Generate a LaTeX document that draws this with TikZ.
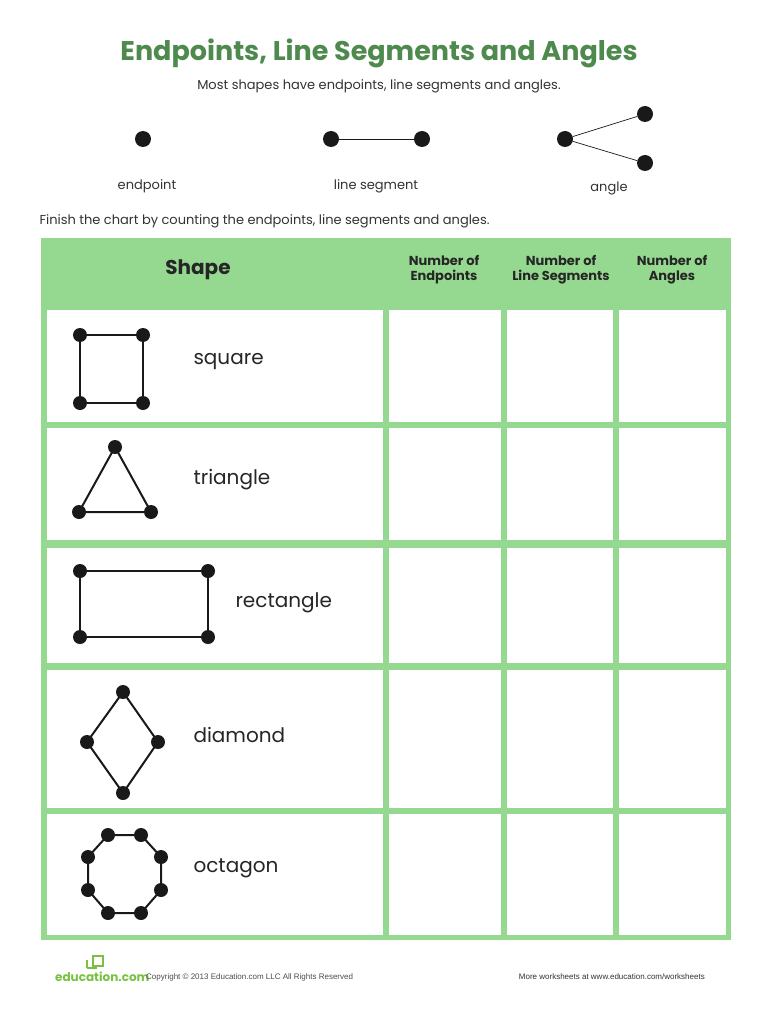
\documentclass[tikz,border=0pt]{standalone}
\usepackage{fontspec}
\setmainfont{Poppins}
\newfontfamily\footfont{Liberation Sans}
\definecolor{tgreen}{HTML}{4E8A4E}
\definecolor{tbl}{HTML}{95D991}
\definecolor{edgreen}{HTML}{7AC143}
\begin{document}
\begin{tikzpicture}[x=1pt,y=-1pt,
  dot/.style={circle,fill=black!90,inner sep=0pt,minimum size=16pt},
  sdot/.style={circle,fill=black!90,inner sep=0pt,minimum size=14pt},
  edge/.style={line width=2pt,black!90},
  thin/.style={line width=0.7pt,black!90},
  cell/.style={fill=white},
  lab/.style={font=\fontsize{13}{15}\selectfont,text=black!80},
  shp/.style={font=\fontsize{20}{22}\selectfont,text=black!85,anchor=west},
  hdr/.style={font=\fontsize{13}{15}\selectfont\bfseries,text=black!85,align=center}]
\useasboundingbox (0,0) rectangle (768,1024);
\fill[white] (0,0) rectangle (768,1024);
\node[font=\fontsize{27}{30}\selectfont\bfseries,text=tgreen] (title) at (379,53) {Endpoints, Line Segments and Angles};
\node[lab] (sub) at (379,86) {Most shapes have endpoints, line segments and angles.};
% examples
\node[dot] (e1) at (143,139) {};
\node[dot] (s1) at (331,139) {};
\node[dot] (s2) at (422,139) {};
\draw[thin] (s1) -- (s2);
\node[dot] (a0) at (565,139) {};
\node[dot] (a1) at (645,114) {};
\node[dot] (a2) at (645,163) {};
\draw[thin] (a0) -- (a1); \draw[thin] (a0) -- (a2);
\node[lab] (l1) at (147,186) {endpoint};
\node[lab] (l2) at (376,186) {line segment};
\node[lab] (l3) at (609,188) {angle};
\node[lab,anchor=west] (inst) at (36,221) {Finish the chart by counting the endpoints, line segments and angles.};
% table
\fill[tbl] (41,238) rectangle (731,940);
\node[font=\fontsize{20}{22}\selectfont\bfseries,text=black!85] (hshape) at (198,270) {Shape};
\node[hdr] (h1) at (444,270) {Number of\\Endpoints};
\node[hdr] (h2) at (561,270) {Number of\\Line Segments};
\node[hdr] (h3) at (672,270) {Number of\\Angles};
\foreach \ya/\yb in {310/422,428/540,548/663,670/808,814/935}{
  \fill[cell] (47,\ya) rectangle (383,\yb);
  \fill[cell] (389,\ya) rectangle (501,\yb);
  \fill[cell] (507,\ya) rectangle (613,\yb);
  \fill[cell] (619,\ya) rectangle (726,\yb);
}
% square
\node[sdot] (q1) at (80,335) {}; \node[sdot] (q2) at (143,335) {};
\node[sdot] (q3) at (143,403) {}; \node[sdot] (q4) at (80,403) {};
\draw[edge] (q1.center)--(q2.center)--(q3.center)--(q4.center)--cycle;
\node[shp] (tq) at (190,362) {square};
% triangle
\node[sdot] (t1) at (115,447) {}; \node[sdot] (t2) at (151,512) {}; \node[sdot] (t3) at (79,512) {};
\draw[edge] (t1.center)--(t2.center)--(t3.center)--cycle;
\node[shp] (tt) at (190,480) {triangle};
% rectangle
\node[sdot] (r1) at (80,571) {}; \node[sdot] (r2) at (208,571) {};
\node[sdot] (r3) at (208,637) {}; \node[sdot] (r4) at (80,637) {};
\draw[edge] (r1.center)--(r2.center)--(r3.center)--(r4.center)--cycle;
\node[shp] (tr) at (232,603) {rectangle};
% diamond
\node[sdot] (d1) at (123,692) {}; \node[sdot] (d2) at (158,742) {};
\node[sdot] (d3) at (123,793) {}; \node[sdot] (d4) at (87,742) {};
\draw[edge] (d1.center)--(d2.center)--(d3.center)--(d4.center)--cycle;
\node[shp] (td) at (190,735) {diamond};
% octagon
\node[sdot] (o1) at (108,835) {}; \node[sdot] (o2) at (141,835) {};
\node[sdot] (o3) at (161,857) {}; \node[sdot] (o4) at (161,890) {};
\node[sdot] (o5) at (141,913) {}; \node[sdot] (o6) at (108,913) {};
\node[sdot] (o7) at (88,890) {}; \node[sdot] (o8) at (88,857) {};
\draw[edge] (o1.center)--(o2.center)--(o3.center)--(o4.center)--(o5.center)--(o6.center)--(o7.center)--(o8.center)--cycle;
\node[shp] (to) at (190,868) {octagon};
% footer
\node[font=\fontsize{12}{14}\selectfont\bfseries,text=edgreen,anchor=west,inner sep=0pt] (logo) at (55,977) {education.com};
\draw[edgreen,line width=1.5pt] (87,968) -- (87,960) (87,968) -- (97,968) (93,956) rectangle (103,966);
\node[font=\footfont\fontsize{8}{10}\selectfont,text=black!70,anchor=west,inner sep=0pt] (copy) at (146,977) {Copyright \textcopyright{} 2013 Education.com LLC All Rights Reserved};
\node[font=\footfont\fontsize{8}{10}\selectfont,text=black!80,anchor=east,inner sep=0pt] (more) at (705,977) {More worksheets at www.education.com/worksheets};
\end{tikzpicture}
\end{document}
